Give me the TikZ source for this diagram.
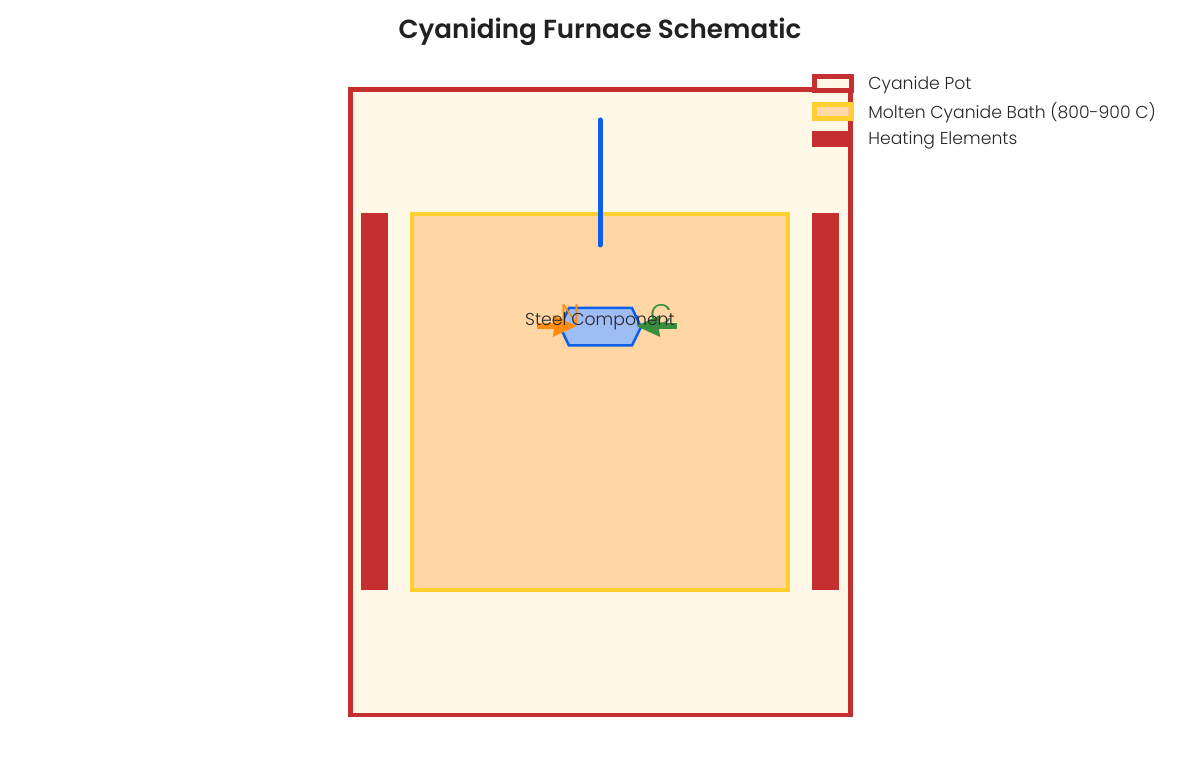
\documentclass[tikz,border=0pt]{standalone}
\usepackage{fontspec}
\setmainfont{Poppins}
\newfontfamily\titlefont[UprightFont=* SemiBold]{Poppins}
\newfontfamily\lightfont[UprightFont=* Light]{Poppins}
\usetikzlibrary{arrows.meta}
\definecolor{potred}{HTML}{C62F2F}
\definecolor{potfill}{HTML}{FFF8E6}
\definecolor{bathyellow}{HTML}{FFD02F}
\definecolor{bathfill}{HTML}{FFD6A4}
\definecolor{rodblue}{HTML}{0B5FE8}
\definecolor{steelfill}{HTML}{9DBDF4}
\definecolor{ngreen}{HTML}{388E3C}
\definecolor{norange}{HTML}{FF8C0A}
\tikzset{
  pot/.style={draw=potred,fill=potfill,line width=2.8pt},
  bath/.style={draw=bathyellow,fill=bathfill,line width=2.8pt},
  heater/.style={fill=potred},
  legendtext/.style={font=\lightfont\fontsize{10.35pt}{12pt}\selectfont,text=black!85,inner sep=0pt},
  atomtext/.style={font=\lightfont\fontsize{17pt}{19pt}\selectfont,inner sep=0pt},
  atomarrow/.style={line width=3.4pt,-{Stealth[length=14pt,width=12pt,inset=0.5pt]}},
}
\begin{document}
\begin{tikzpicture}[x=0.6pt,y=-0.6pt]
\useasboundingbox (0,0) rectangle (1200,763);

% furnace
\draw[pot] (350.5,89.5) rectangle (850.5,715);
\fill[heater] (361,213) rectangle (388,590);
\fill[heater] (812,213) rectangle (839,590);
\draw[bath] (412,214) rectangle (788,590);

% rod
\coordinate (rodtop) at (600,120);
\coordinate (rodend) at (600,245);
\draw[rodblue,line width=3pt,line cap=round] (rodtop) -- (rodend);

% component
\filldraw[draw=rodblue,fill=steelfill,line width=1.5pt] (560,327) -- (569,308) -- (632,308) -- (641,327) -- (632,345.5) -- (569,345.5) -- cycle;

% atoms
\coordinate (nstart) at (537,326);
\coordinate (nend) at (577,326);
\draw[norange,atomarrow] (nstart) -- (nend);
\node (natom) at (570,315) [atomtext,text=norange] {N};
\coordinate (cstart) at (677,326);
\coordinate (cend) at (636,326);
\draw[ngreen,atomarrow] (cstart) -- (cend);
\node (catom) at (661,315) [atomtext,text=ngreen] {C};
\node (steel) at (600,321) [legendtext] {Steel Component};

% title
\node (title) at (600,31.5) [font=\titlefont\fontsize{15.7pt}{19pt}\selectfont,text=black!87,inner sep=0pt] {Cyaniding Furnace Schematic};

% legend
\draw[draw=potred,fill=potfill,line width=2.8pt] (814.5,76.5) rectangle (851.5,90.5);
\draw[draw=bathyellow,fill=bathfill,fill opacity=0.9,line width=2.8pt] (814.5,104.5) rectangle (851.5,118.5);
\fill[heater] (812,131) rectangle (852,147);
\node (legpot) at (868,85) [legendtext,anchor=west] {Cyanide Pot};
\node (legbath) at (868,113) [legendtext,anchor=west] {Molten Cyanide Bath (800-900 C)};
\node (legheat) at (868,140) [legendtext,anchor=west] {Heating Elements};
\end{tikzpicture}
\end{document}
